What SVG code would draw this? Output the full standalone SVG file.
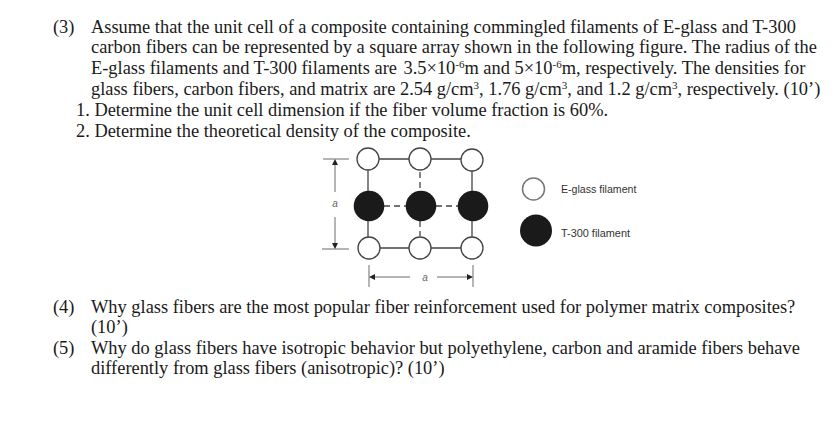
<svg xmlns="http://www.w3.org/2000/svg" width="839" height="433" viewBox="0 0 839 433">
<style>
.t{font-family:"Liberation Serif","Times New Roman",serif;font-size:18.4px;fill:#1a1a1a}
.s{font-size:11px;baseline-shift:6px}
.l{font-family:"Liberation Sans",Arial,sans-serif;font-size:10.6px;fill:#333}
.a{font-family:"Liberation Sans",Arial,sans-serif;font-size:10px;font-style:italic;fill:#666}
.w{fill:#fff;stroke:#444;stroke-width:1.3}
.g{fill:#fff;stroke:#777;stroke-width:1.5}
.b{fill:#1a1a1a;stroke:none}
.c{stroke:#444;stroke-width:1.3;fill:none}
.d{stroke:#444;stroke-width:1.3;fill:none;stroke-dasharray:6 4}
.m{stroke:#444;stroke-width:.8;fill:none}
.h{fill:#222}
</style>
<rect width="839" height="433" fill="#fff"/>
<g id="text">
<text class="t" x="53" y="33">(3)</text>
<text class="t" x="91" y="33">Assume that the unit cell of a composite containing commingled filaments of E-glass and T-300</text>
<text class="t" x="91" y="53">carbon fibers can be represented by a square array shown in the following figure. The radius of the</text>
<text class="t" x="91" y="74">E-glass filaments and T-300 filaments are <tspan dx="2">3.5×10</tspan><tspan class="s">-6</tspan>m and 5×10<tspan class="s">-6</tspan>m, respectively. The densities for</text>
<text class="t" x="91" y="95">glass fibers, carbon fibers, and matrix are 2.54 g/cm<tspan class="s">3</tspan>, 1.76 g/cm<tspan class="s">3</tspan>, and 1.2 g/cm<tspan class="s">3</tspan>, respectively. (10’)</text>
<text class="t" x="76" y="116">1. Determine the unit cell dimension if the fiber volume fraction is 60%.</text>
<text class="t" x="76" y="137">2. Determine the theoretical density of the composite.</text>
<text class="t" x="53" y="313">(4)</text>
<text class="t" x="91" y="313">Why glass fibers are the most popular fiber reinforcement used for polymer matrix composites?</text>
<text class="t" x="91" y="333">(10’)</text>
<text class="t" x="53" y="354">(5)</text>
<text class="t" x="91" y="354">Why do glass fibers have isotropic behavior but polyethylene, carbon and aramide fibers behave</text>
<text class="t" x="91" y="374">differently from glass fibers (anisotropic)? (10’)</text>
</g>
<g id="connectors">
<path class="c" d="M368 159H472M369 248H472M368 159V248M472 160V248"/>
<path class="d" d="M384 206H406M436 206H458M420 172V191M420 221V236"/>
<path class="m" d="M323 159H349M322 249H349M335 162V192M335 217V246M369 265V287M473 265V287M372 277H410M437 277H470"/>
<path class="h" d="M335 159l-3 6h6zM335 249l-3-6h6zM369 277l6-3v6zM473 277l-6-3v6z"/>
</g>
<g id="e1"><circle class="w" cx="368" cy="159" r="11"/></g>
<g id="e2"><circle class="w" cx="420" cy="159" r="11"/></g>
<g id="e3"><circle class="w" cx="472" cy="160" r="11"/></g>
<g id="t1"><circle class="b" cx="369" cy="206" r="15.3"/></g>
<g id="t2"><circle class="b" cx="421" cy="206" r="15.3"/></g>
<g id="t3"><circle class="b" cx="473" cy="206" r="15.3"/></g>
<g id="e4"><circle class="w" cx="369" cy="248" r="11"/></g>
<g id="e5"><circle class="w" cx="420" cy="248" r="11"/></g>
<g id="e6"><circle class="w" cx="472" cy="248" r="11"/></g>
<g id="dim-a-v"><text class="a" x="335" y="207" text-anchor="middle">a</text></g>
<g id="dim-a-h"><text class="a" x="425" y="281" text-anchor="middle">a</text></g>
<g id="legend-e"><circle class="g" cx="533.5" cy="189" r="11"/><text class="l" x="561" y="192.500">E-glass filament</text></g>
<g id="legend-t"><circle class="b" cx="536" cy="230.500" r="16"/><text class="l" x="561" y="237" style="font-size:10.9px">T-300 filament</text></g>
</svg>
